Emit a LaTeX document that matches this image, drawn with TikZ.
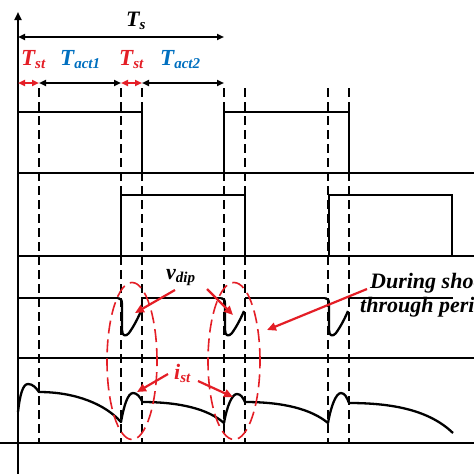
\documentclass[tikz,border=0pt]{standalone}
\usepackage{fontspec}
\setmainfont{Liberation Serif}
\usetikzlibrary{arrows.meta}
\definecolor{myred}{RGB}{228,30,38}
\definecolor{myblue}{RGB}{0,112,192}
\newcommand\wlbl[4]{{\fontsize{#3}{#3}\selectfont\bfseries\itshape #1}\raisebox{-0.3em}{\fontsize{#4}{#4}\selectfont\bfseries\itshape #2}}
\begin{document}
\begin{tikzpicture}[x=1pt,y=-1pt,
  wave/.style={line width=2.3pt, line join=miter},
  dashln/.style={line width=2.1pt, dash pattern=on 9pt off 5pt},
  ell/.style={myred, line width=1.6pt, dash pattern=on 13pt off 6pt},
  redarr/.style={myred, line width=2.2pt, -{Triangle[length=9pt,width=8pt]}},
  span/.style={line width=2pt, {Triangle[length=7pt,width=6pt]}-{Triangle[length=7pt,width=6pt]}},
  lab/.style={anchor=base west, inner sep=0pt}]
\useasboundingbox (0,0) rectangle (474,474);
\clip (0,0) rectangle (474,474);
\fill[white] (0,0) rectangle (474,474);

% axes
\coordinate (axb) at (18,474);
\coordinate (axt) at (18,12);
\draw[line width=2.3pt, -{Triangle[length=8pt,width=7pt]}] (axb) -- (axt);
\draw[wave] (0,443) -- (474,443);

% baselines
\draw[wave] (18,173) -- (474,173);
\draw[wave] (18,256) -- (474,256);
\draw[wave] (18,358) -- (474,358);

% dashed lines
\foreach \x in {39,121,142,224,245,328,349}
  \draw[dashln] (\x,88) -- (\x,443);

% waveform 1
\draw[wave] (18,112) -- (142,112) -- (142,173);
\draw[wave] (224,173) -- (224,112) -- (349,112) -- (349,173);
% waveform 2
\draw[wave] (121,256) -- (121,195) -- (245,195) -- (245,256);
\draw[wave] (329,256) -- (329,195) -- (452,195) -- (452,256);

% waveform 3 (voltage with dips)
\draw[wave] (18,298) -- (118,298);
\draw[wave] (141,298) -- (221,298);
\draw[wave] (245,298) -- (325,298);
\draw[wave] (348,298) -- (453,298);
\foreach \x in {121,224,328}
  \draw[wave, line join=round] (\x-3,298) .. controls (\x,298) and (\x+1,300) .. (\x+1,305) -- (\x+1,330)
     .. controls (\x+1,336) and (\x+5,337) .. (\x+8,333) .. controls (\x+13,326) and (\x+17,318) .. (\x+20,311);

% waveform 4 (current)
\draw[wave, line join=round] (18,412) .. controls (20,394) and (23,384) .. (28,384) .. controls (33,384) and (36,388) .. (39,392)
  .. controls (75,392) and (105,404) .. (121,422)
  .. controls (124,405) and (128,393) .. (133,393) .. controls (137,393) and (140,397) .. (142,401);
\draw[wave, line join=round] (142,402) .. controls (180,402) and (208,409) .. (224,423)
  .. controls (227,406) and (232,394) .. (237,394) .. controls (241,394) and (243,398) .. (245,402);
\draw[wave, line join=round] (245,402) .. controls (283,402) and (311,409) .. (328,423)
  .. controls (331,406) and (336,393) .. (341,393) .. controls (345,393) and (347,398) .. (349,403);
\draw[wave, line join=round] (349,403) .. controls (395,403) and (430,411) .. (453,433);

% ellipses
\draw[ell] (132,361) ellipse [x radius=25pt, y radius=78.5pt];
\draw[ell] (234,361) ellipse [x radius=26pt, y radius=78.5pt];

% top labels and spans
\node[lab] (ts) at (126,26) {\wlbl{T}{s}{22}{15}};
\coordinate (s0) at (18,37);
\coordinate (s1) at (224,37);
\draw[span] (s0) -- (s1);

\node[lab, myred] (tst1) at (21,65) {\wlbl{T}{st}{23}{15}};
\node[lab, myblue] (tact1) at (60,65) {\wlbl{T}{act1}{23}{15}};
\node[lab, myred] (tst2) at (119,65) {\wlbl{T}{st}{23}{15}};
\node[lab, myblue] (tact2) at (160,65) {\wlbl{T}{act2}{23}{15}};

\coordinate (p0) at (18,83);
\coordinate (p1) at (39,83);
\coordinate (p2) at (121,83);
\coordinate (p3) at (142,83);
\coordinate (p4) at (224,83);
\draw[span, myred] (p0) -- (p1);
\draw[span] (p1) -- (p2);
\draw[span, myred] (p2) -- (p3);
\draw[span] (p3) -- (p4);

% annotations
\node[lab] (vdip) at (166,279) {\wlbl{v}{dip}{22}{15}};
\node[lab, myred] (ist) at (174,379) {\wlbl{i}{st}{22}{15}};
\node[lab] (dur1) at (370,288) {\fontsize{22}{22}\selectfont\bfseries\itshape During shoot-};
\node[lab] (dur2) at (360,312) {\fontsize{22}{22}\selectfont\bfseries\itshape through period};

\coordinate (a1s) at (175,290);
\coordinate (a1e) at (135,313);
\coordinate (a2s) at (207,289);
\coordinate (a2e) at (233,315);
\coordinate (a3s) at (367,289);
\coordinate (a3e) at (267,330);
\coordinate (a4s) at (168,374);
\coordinate (a4e) at (137,392);
\coordinate (a5s) at (198,381);
\coordinate (a5e) at (233,397);
\draw[redarr] (a1s) -- (a1e);
\draw[redarr] (a2s) -- (a2e);
\draw[redarr] (a3s) -- (a3e);
\draw[redarr] (a4s) -- (a4e);
\draw[redarr] (a5s) -- (a5e);
\end{tikzpicture}
\end{document}
